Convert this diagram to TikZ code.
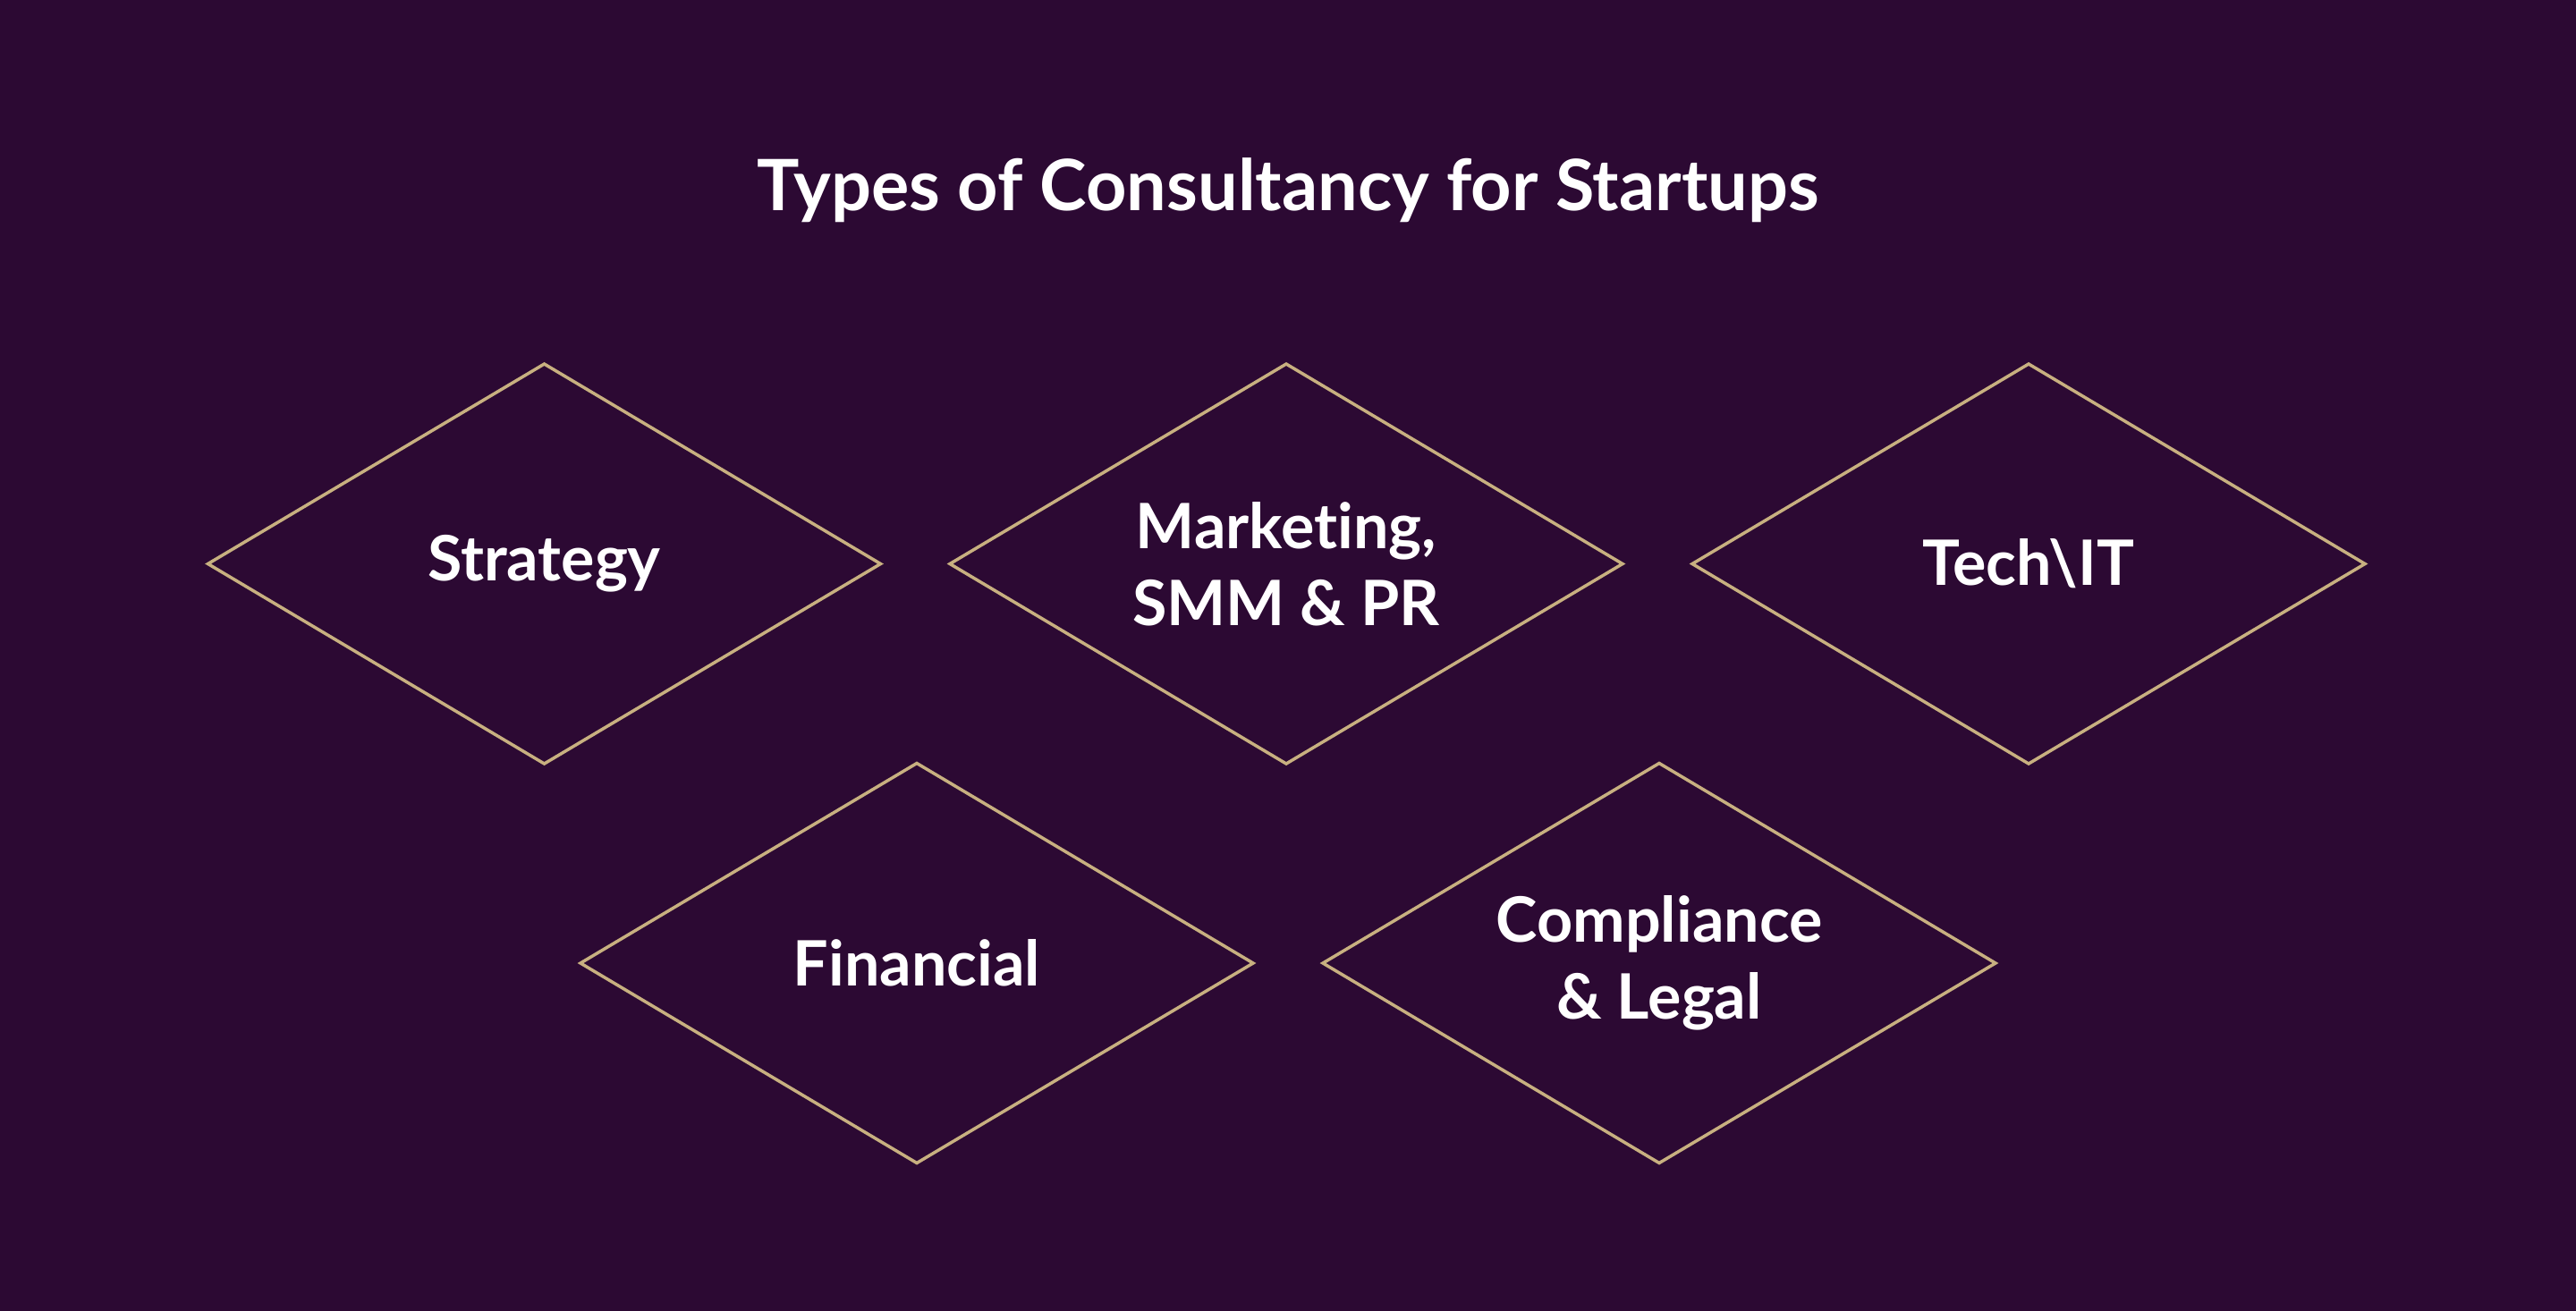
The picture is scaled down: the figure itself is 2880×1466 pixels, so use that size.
\documentclass[tikz,border=0pt]{standalone}
\usepackage{fontspec}
\setmainfont{Lato}[Ligatures=NoCommon]
\usetikzlibrary{shapes.geometric}
\definecolor{bgpurple}{RGB}{44,9,51}
\definecolor{goldline}{RGB}{200,176,128}
\tikzset{
  kind/.style={shape=diamond, draw=goldline, line width=0.875pt, aspect=1.68,
    minimum width=188pt, minimum height=111.75pt, inner sep=0pt, outer sep=0pt,
    text=white, align=center, font=\bfseries\fontsize{17.5}{21.5}\selectfont},
  heading/.style={text=white, font=\bfseries\fontsize{19.8}{24}\selectfont}
}
\begin{document}
\begin{tikzpicture}[x=0.25pt,y=-0.25pt]
\fill[bgpurple] (0,0) rectangle (2880,1466);
\useasboundingbox (0,0) rectangle (2880,1466);
\node[heading] (title) at (1440,213) {Types of Consultancy for Startups};
\node[kind] (strategy) at (608.5,630.5) {Strategy};
\node[kind] (marketing) at (1438,630.5) {Marketing,\\SMM \& PR};
\node[kind] (tech) at (2268,630.5) {Tech\textbackslash IT};
\node[kind] (financial) at (1025,1077) {Financial};
\node[kind] (compliance) at (1855,1077) {Compliance\\\& Legal};
\end{tikzpicture}
\end{document}
